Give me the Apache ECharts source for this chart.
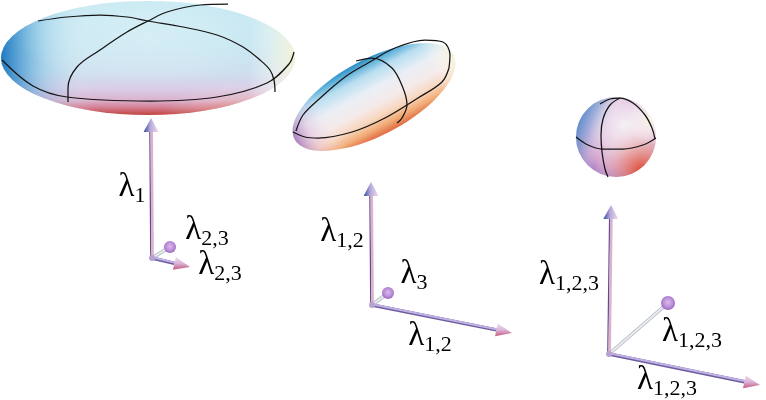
<!DOCTYPE html>
<html><head><meta charset="utf-8">
<script src="https://cdn.jsdelivr.net/npm/echarts@6/dist/echarts.min.js"></script>
<style>html,body{margin:0;padding:0;background:#fff;}#chart{width:766px;height:400px;}</style>
</head><body><div id="chart"></div>
<script>
// ---------- data (picture units: x to the right, y downward) ----------
const ellipsoidCenters = [[148,58],[374,97],[616,137]];
const ellipsoidRadii   = [[147,57],[90,38],[40,40]];
const ellipsoidTilt    = [0,28,0];

// mesh curves on the surfaces
const flatEquator   = [[2,60],[33,86],[67,97],[150,101],[217,97],[267,83],[289,64],[294,52]];
const flatMeridianA = [[68,102],[68,88],[77,67],[100,50],[127,32],[148,21],[167,12],[200,5],[228,4]];
const flatMeridianB = [[38,21],[67,17],[100,15],[127,17],[148,21],[183,27],[217,35],[243,47],[260,60],[270,70],[274,80],[275,92]];
const longRingFront = [[293,132],[305,137],[318,138],[352,132],[385,118],[418,98],[442,82],[449,68]];
const longRingBack  = [[296,131],[303,115],[318,100],[345,77],[368,63],[395,48],[425,40],[443,42],[450,55],[449,68]];
const longSection   = [[356,61],[372,58],[392,68],[403,88],[407,105],[402,118],[397,123]];
const roundEquator  = [[576,137],[588,145],[602,149],[623,149],[643,145],[656,138]];
const roundMeridian = [[620,98],[610,105],[603,119],[601,135],[602,152],[605,169],[608,177]];
const roundTopArc   = [[600,104],[610,99],[620,98],[633,103],[645,115],[652,128],[655,139]];
const meshCurves = [flatEquator, flatMeridianA, flatMeridianB, longRingFront, longRingBack, longSection, roundEquator, roundMeridian, roundTopArc];

// axis triads
const axisOrigins = [[152,258],[372,305],[609,354]];
const upTips      = [[151,118],[371,182],[611,205]];
const sideTips    = [[190,267],[512,333],[760,385]];
const depthEnds   = [[170,247],[388,293],[668,303]];

// labels
const labelSubscripts = ['1','2,3','2,3','1,2','3','1,2','1,2,3','1,2,3','1,2,3'];
const labelPositions  = [[132,189],[207,232],[220,267],[342,234],[414,276],[430,338],[569,277],[692,334],[667,382]];

// ---------- rendering ----------
const G = echarts.graphic;
function lin(x,y,x2,y2,stops){return new G.LinearGradient(x,y,x2,y2,stops.map(s=>({offset:s[0],color:s[1]})));}
function rad(x,y,r,stops){return new G.RadialGradient(x,y,r,stops.map(s=>({offset:s[0],color:s[1]})));}
const T='rgba(255,255,255,0)';
const shading = [
  [ // flat
    lin(0,0,0,1,[[0,'#c4e8f2'],[0.4,'#c4e5f0'],[0.62,'#cde0ef'],[0.76,'#d8cfe8'],[0.87,'#dcb3d0'],[0.94,'#d27a8c'],[1,'#c2443e']]),
    lin(0,0,1,0,[[0,'rgba(25,115,190,0.95)'],[0.05,'rgba(45,135,200,0.75)'],[0.16,'rgba(110,185,225,0.3)'],[0.32,T],[0.84,T],[0.95,'rgba(252,248,228,0.6)'],[1,'rgba(250,244,210,0.85)']]),
    rad(0.85,1.0,0.3,[[0,'rgba(240,140,70,0.45)'],[1,T]]),
    rad(0.5,0.3,0.45,[[0,'rgba(235,248,252,0.45)'],[1,T]])
  ],
  [ // long
    lin(0,0,0,1,[[0,'#2a8cc6'],[0.07,'#5aaed8'],[0.2,'#b8def0'],[0.4,'#eaeff5'],[0.6,'#f5eaea'],[0.75,'#f7d8c2'],[0.88,'#f2ad78'],[1,'#e06a40']]),
    lin(0,0,1,0,[[0,'rgba(140,85,170,0.7)'],[0.1,'rgba(215,160,205,0.3)'],[0.25,T],[0.85,T],[1,'rgba(252,246,210,0.65)']])
  ],
  [ // round
    rad(0.6,0.35,0.75,[[0,'#f5eff4'],[0.4,'#e8d0e6'],[0.72,'#d4a2cf'],[1,'#9a78c0']]),
    lin(0,0.15,0.9,0.55,[[0,'rgba(40,125,200,0.95)'],[0.25,'rgba(90,160,215,0.45)'],[0.5,T]]),
    rad(0.82,0.92,0.6,[[0,'rgba(225,65,35,0.9)'],[0.45,'rgba(238,125,85,0.4)'],[1,T]]),
    rad(0.95,0.28,0.32,[[0,'rgba(252,248,225,0.9)'],[1,T]])
  ]
];

function ellipsoidItem(params, api){
  const i = params.dataIndex;
  const c = api.coord([api.value(0), api.value(1)]);
  const s = api.size([api.value(2), api.value(3)]);
  const rx = s[0], ry = s[1];
  return {
    type:'group', x:c[0], y:c[1], rotation: api.value(4)*Math.PI/180, scaleX: rx/ry,
    children: shading[i].map(f=>({type:'circle', shape:{cx:0,cy:0,r:ry}, style:{fill:f}, silent:true}))
  };
}

function cone(tip, base, hw, fill){
  const dx = tip[0]-base[0], dy = tip[1]-base[1];
  const L = Math.hypot(dx,dy);
  const nx = -dy/L*hw, ny = dx/L*hw;
  return {type:'polygon', shape:{points:[tip,[base[0]+nx,base[1]+ny],[base[0]-nx,base[1]-ny]]}, style:{fill}, silent:true};
}
function back(from, to, len){
  const dx = to[0]-from[0], dy = to[1]-from[1];
  const L = Math.hypot(dx,dy);
  return [to[0]-dx/L*len, to[1]-dy/L*len];
}

function axisItem(params, api){
  const o = api.coord([api.value(0), api.value(1)]);
  const u = api.coord([api.value(2), api.value(3)]);
  const sd = api.coord([api.value(4), api.value(5)]);
  const d = api.coord([api.value(6), api.value(7)]);
  const ub = back(o,u,14), sb = back(o,sd,16);
  const discR = api.size([params.dataIndex===2?7:6,0])[0];
  return {type:'group', children:[
    {type:'line', shape:{x1:o[0],y1:o[1],x2:d[0],y2:d[1]}, style:{stroke:'#a8b8de',lineWidth:3.6}, silent:true},
    {type:'line', shape:{x1:o[0],y1:o[1],x2:d[0],y2:d[1]}, style:{stroke:'#f3eddc',lineWidth:1.8}, silent:true},
    {type:'line', shape:{x1:o[0],y1:o[1],x2:sb[0],y2:sb[1]}, style:{stroke:'#6e5c9e',lineWidth:3.4}, silent:true},
    {type:'line', shape:{x1:o[0],y1:o[1]-0.7,x2:sb[0],y2:sb[1]-0.7}, style:{stroke:'#c0b2e4',lineWidth:2}, silent:true},
    {type:'line', shape:{x1:o[0]-1.2,y1:o[1],x2:ub[0]-1.2,y2:ub[1]}, style:{stroke:'#5a4a92',lineWidth:1.3}, silent:true},
    {type:'line', shape:{x1:o[0]+0.6,y1:o[1],x2:ub[0]+0.6,y2:ub[1]}, style:{stroke:'#deb2cc',lineWidth:2.6}, silent:true},
    cone(u, ub, 7.5, lin(0,0,1,0,[[0,'#34479a'],[0.45,'#b6aadc'],[1,'#f3dcea']])),
    cone(sd, sb, 6.5, lin(0,0,0,1,[[0,'#eadff2'],[0.5,'#dcb4d8'],[1,'#c45e80']])),
    {type:'circle', shape:{cx:d[0],cy:d[1],r:discR}, style:{fill:rad(0.5,0.45,0.6,[[0,'#dcbcec'],[0.6,'#b88ad6'],[1,'#9462b8']])}, silent:true},
    {type:'circle', shape:{cx:o[0],cy:o[1],r:3}, style:{fill:'#b8a2d2'}, silent:true}
  ]};
}

const richStyle = {
  a:{fontFamily:'Liberation Serif', fontSize:33, color:'#1b1b1b', verticalAlign:'bottom', padding:[0,0,3,0]},
  b:{fontFamily:'Liberation Serif', fontSize:22, color:'#1b1b1b', verticalAlign:'bottom'}
};
function labelItem(params, api){
  const p = api.coord([api.value(0), api.value(1)]);
  return {type:'text', x:p[0], y:p[1], style:{text:'{a|λ}{b|'+labelSubscripts[params.dataIndex]+'}', rich:richStyle, align:'center', verticalAlign:'middle'}, silent:true};
}

const series = [
  {type:'custom', renderItem:ellipsoidItem, z:1, silent:true,
   data: ellipsoidCenters.map((c,i)=>[c[0],c[1],ellipsoidRadii[i][0],ellipsoidRadii[i][1],ellipsoidTilt[i]])}
];
meshCurves.forEach(pts=>series.push({type:'line', data:pts, smooth:0.35, symbol:'none', silent:true, z:3,
  lineStyle:{color:'#141414', width:1.25}}));
series.push({type:'custom', renderItem:axisItem, z:4, silent:true,
  data: axisOrigins.map((o,i)=>[o[0],o[1],upTips[i][0],upTips[i][1],sideTips[i][0],sideTips[i][1],depthEnds[i][0],depthEnds[i][1]])});
series.push({type:'custom', renderItem:labelItem, z:5, silent:true, data: labelPositions});

const chart = echarts.init(document.getElementById('chart'), null, {renderer:'canvas'});
chart.setOption({
  animation:false,
  backgroundColor:'#ffffff',
  grid:{left:0,right:0,top:0,bottom:0},
  xAxis:{type:'value',min:0,max:766,show:false},
  yAxis:{type:'value',min:0,max:400,inverse:true,show:false},
  series
});
</script></body></html>
